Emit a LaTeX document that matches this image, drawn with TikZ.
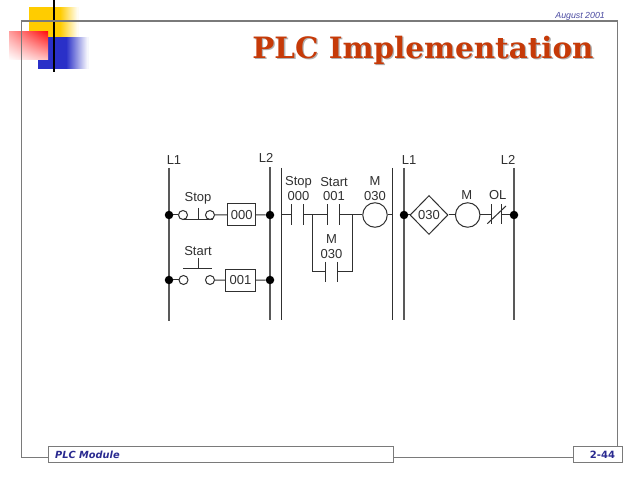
\documentclass[tikz,border=0pt]{standalone}
\usepackage{fontspec}
\setmainfont{Liberation Sans}
\newfontfamily\titlefont{DejaVu Serif}
\newfontfamily\footfont{DejaVu Sans}
\usetikzlibrary{shapes.geometric,shadings}
\definecolor{ink}{HTML}{303030}
\definecolor{titlered}{HTML}{C63A08}
\definecolor{navy}{HTML}{2A2A90}
\definecolor{framegray}{HTML}{7A7A7A}
\definecolor{logoyellow}{HTML}{FFCC00}
\definecolor{logoblue}{HTML}{2A30C8}
\definecolor{logored}{HTML}{FF1010}
\tikzset{
  wire/.style={draw=ink,line width=1pt},
  rail/.style={draw=ink!80,line width=1.5pt},
  lbl/.style={inner sep=0pt,text=ink,font=\fontsize{13}{13}\selectfont},
  dot/.style={circle,fill=black,draw=none,minimum size=8.5pt,inner sep=0pt},
  term/.style={circle,draw=ink,fill=white,line width=1pt,minimum size=9pt,inner sep=0pt},
  coil/.style={circle,draw=ink,fill=white,line width=1pt,minimum size=24.5pt,inner sep=0pt},
  iobox/.style={rectangle,draw=ink,fill=white,line width=1pt,inner sep=0pt,text=ink,font=\fontsize{13}{13}\selectfont},
  framebox/.style={rectangle,draw=framegray,fill=white,line width=1pt,inner sep=0pt}
}
\begin{document}
\begin{tikzpicture}[x=1pt,y=-1pt]
\useasboundingbox (0,0) rectangle (638,478);
\fill[white] (0,0) rectangle (638,478);
% logo
\fill[logoyellow] (29,7) rectangle (60,37);
\foreach \i in {0,...,17} {
  \pgfmathsetmacro{\pc}{100-\i*100/18}
  \fill[logoyellow!\pc!white] (60+\i,7) rectangle (61.5+\i,37);
}
\fill[logoblue] (38,37) rectangle (66,69.5);
\foreach \i in {0,...,21} {
  \pgfmathsetmacro{\pc}{100-\i*100/22}
  \fill[logoblue!\pc!white] (66+\i,37) rectangle (67.5+\i,69.5);
}
\shade[upper right=logored,lower left=white,upper left=logored!40!white,lower right=logored!25!white] (9,32) rectangle (48,60);
\draw[black,line width=1.8pt] (54,0) -- (54,72);
% frame
\draw[framegray,line width=0.8pt] (21,457) -- (21,21);
\draw[framegray,line width=1.3pt] (21,21) -- (617.5,21);
\draw[framegray,line width=0.8pt] (617.5,21) -- (617.5,457) -- (21,457);
% title
\node[anchor=center,inner sep=0pt,text=gray!60] at (424.3,51.3) {\titlefont\bfseries\fontsize{29.4}{29.4}\selectfont PLC Implementation};
\node[anchor=center,inner sep=0pt,text=titlered] at (423,50) {\titlefont\bfseries\fontsize{29.4}{29.4}\selectfont PLC Implementation};
\node[anchor=east,inner sep=0pt,text=navy!85] at (605,16) {\itshape\fontsize{8.8}{8.8}\selectfont August 2001};
% footer
\node[framebox,minimum width=345pt,minimum height=16pt] (fl) at (220.5,454.2) {};
\node[anchor=west,inner sep=0pt,text=navy] at (55,454.5) {\footfont\bfseries\itshape\fontsize{9.8}{9.8}\selectfont PLC Module};
\node[framebox,minimum width=49pt,minimum height=16pt] (fr) at (598,454.2) {};
\node[inner sep=0pt,text=navy] at (602.5,454.5) {\footfont\bfseries\fontsize{10}{10}\selectfont 2-44};
% rail ends
\coordinate (a1t) at (169,168); \coordinate (a1b) at (169,321);
\coordinate (a2t) at (270,167); \coordinate (a2b) at (270,320);
\coordinate (b1t) at (281.5,168); \coordinate (b1b) at (281.5,320);
\coordinate (b2t) at (392.7,168); \coordinate (b2b) at (392.7,320);
\coordinate (c1t) at (404,168); \coordinate (c1b) at (404,320);
\coordinate (c2t) at (514,168); \coordinate (c2b) at (514,320);
\foreach \p in {a1,a2,c1,c2} \draw[rail] (\p t) -- (\p b);
\foreach \p in {b1,b2} \draw[wire] (\p t) -- (\p b);
% rail labels
\node[lbl] (la1) at (174,160) {L1};
\node[lbl] (la2) at (266,158) {L2};
\node[lbl] (lc1) at (409,160) {L1};
\node[lbl] (lc2) at (508,160) {L2};
% --- input side
\node[dot] (d1) at (169,215) {};
\node[dot] (d2) at (270,215) {};
\node[dot] (d3) at (169,280) {};
\node[dot] (d4) at (270,280) {};
\node[term] (s1) at (183,215) {};
\node[term] (s2) at (210,215) {};
\node[term] (t1) at (183.5,280) {};
\node[term] (t2) at (210,280) {};
\node[iobox,minimum width=28pt,minimum height=22pt] (x0) at (241.7,214.7) {000};
\node[iobox,minimum width=30.4pt,minimum height=21.7pt] (x1) at (240.5,280.2) {001};
\draw[wire] (d1) -- (s1);
\draw[wire] (s2) -- (x0);
\draw[wire] (x0) -- (d2);
\draw[wire] (d3) -- (t1);
\draw[wire] (t2) -- (x1);
\draw[wire] (x1) -- (d4);
\node[lbl] (stoplbl) at (198,198) {Stop};
\node[lbl] (startlbl) at (198,251.5) {Start};
\draw[wire] (183,219.3) -- (213,219.3) (198,208) -- (198,219.3);
\draw[wire] (183,269) -- (212,269) (198,258) -- (198,269);
% --- ladder
\coordinate (r1) at (281.5,215);
\coordinate (c1l) at (291.7,215); \coordinate (c1r) at (303,215);
\coordinate (c2l) at (327.7,215); \coordinate (c2r) at (339,215);
\coordinate (j1) at (312.3,215); \coordinate (j2) at (352,215);
\coordinate (c3l) at (325,272); \coordinate (c3r) at (337.7,272);
\coordinate (k1) at (312.3,272); \coordinate (k2) at (352,272);
\coordinate (r2) at (392.7,215);
\node[coil] (m1) at (375,215) {};
\draw[wire] (r1) -- (c1l);
\draw[wire] (c1r) -- (c2l);
\draw[wire] (c2r) -- (m1);
\draw[wire] (m1) -- (r2);
\draw[wire] (j1) -- (k1) -- (c3l);
\draw[wire] (c3r) -- (k2) -- (j2);
\foreach \q in {c1l,c1r,c2l,c2r} \draw[wire] (\q) ++(0,-10.5) -- ++(0,20.5);
\foreach \q in {c3l,c3r} \draw[wire] (\q) ++(0,-10) -- ++(0,20);
\node[lbl] (t1a) at (298.5,182) {Stop};
\node[lbl] (t1b) at (298.5,196.5) {000};
\node[lbl] (t2a) at (334,182) {Start};
\node[lbl] (t2b) at (334,196.5) {001};
\node[lbl] (t3a) at (375,181.5) {M};
\node[lbl] (t3b) at (375,196.5) {030};
\node[lbl] (t4a) at (331.5,239.5) {M};
\node[lbl] (t4b) at (331.5,254) {030};
% --- output side
\node[dot] (e1) at (404,215) {};
\node[dot] (e2) at (514,215) {};
\node[diamond,draw=ink,fill=white,line width=1pt,minimum width=38pt,minimum height=39pt,inner sep=0pt,text=ink,font=\fontsize{13}{13}\selectfont] (dm) at (429,215) {030};
\node[coil] (m2) at (467.7,215) {};
\coordinate (o1) at (491.7,215);
\coordinate (o2) at (501.7,215);
\draw[wire] (e1) -- (dm);
\draw[wire] (dm) -- (m2);
\draw[wire] (m2) -- (o1);
\draw[wire] (o2) -- (e2);
\foreach \q in {o1,o2} \draw[wire] (\q) ++(0,-10.5) -- ++(0,19.5);
\draw[wire] (487.3,223.7) -- (506,206);
\node[lbl] (mlbl) at (466.7,195) {M};
\node[lbl] (ollbl) at (497.7,195) {OL};
\end{tikzpicture}
\end{document}
